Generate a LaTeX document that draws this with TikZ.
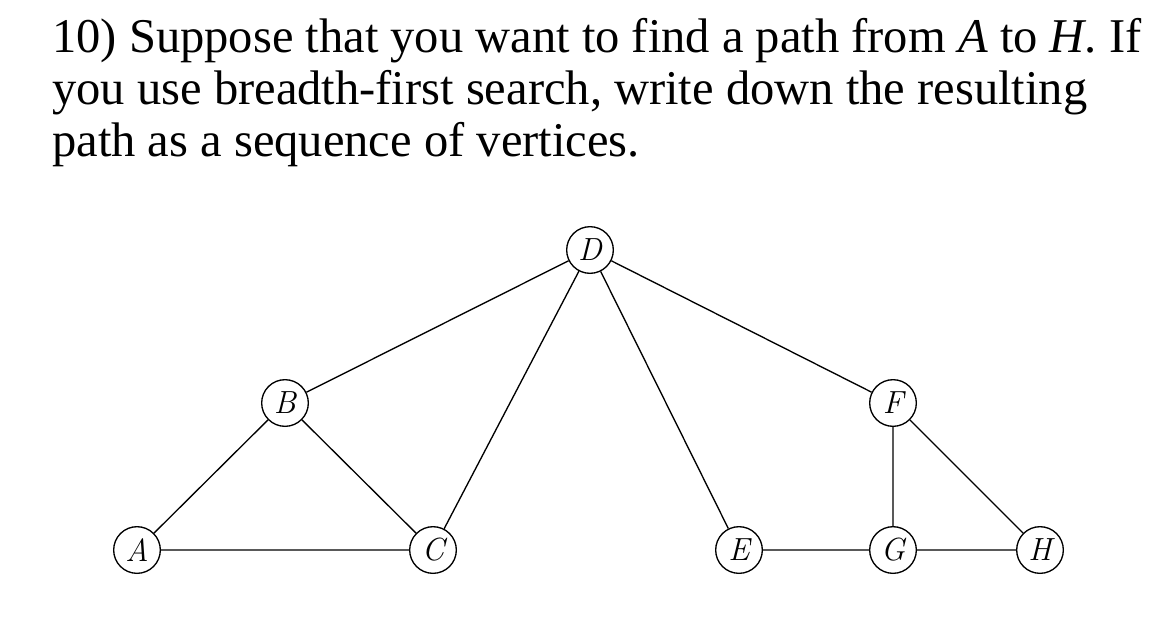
\documentclass[tikz,border=0pt]{standalone}
\usepackage{fontspec}
\setmainfont{Liberation Serif}
\newfontfamily\lmfont{Latin Modern Roman}
\begin{document}
\begin{tikzpicture}[x=0.75pt,y=-0.75pt,
  vtx/.style={circle,draw,line width=1pt,minimum size=35pt,inner sep=0pt,font=\lmfont\fontsize{24}{24}\selectfont\itshape},
  edge/.style={line width=1pt}]
\useasboundingbox (0,0) rectangle (1155,619);
\node[anchor=north west,align=left,inner sep=0pt,font=\fontsize{36.4}{39}\selectfont] (q) at (52,18)
 {10) Suppose that you want to find a path from \textit{A} to \textit{H}. If\\
  you use breadth-first search, write down the resulting\\
  path as a sequence of vertices.};
\node[vtx] (D) at (590,250) {D};
\node[vtx] (B) at (285,403) {B};
\node[vtx] (F) at (893,403) {F};
\node[vtx] (A) at (137,550) {A};
\node[vtx] (C) at (433,550) {C};
\node[vtx] (E) at (739,550) {E};
\node[vtx] (G) at (893,550) {G};
\node[vtx] (H) at (1040,550) {H};
\draw[edge] (A)--(B) (A)--(C) (B)--(C) (B)--(D) (C)--(D) (D)--(E) (D)--(F) (F)--(G) (F)--(H) (E)--(G) (G)--(H);
\end{tikzpicture}
\end{document}
